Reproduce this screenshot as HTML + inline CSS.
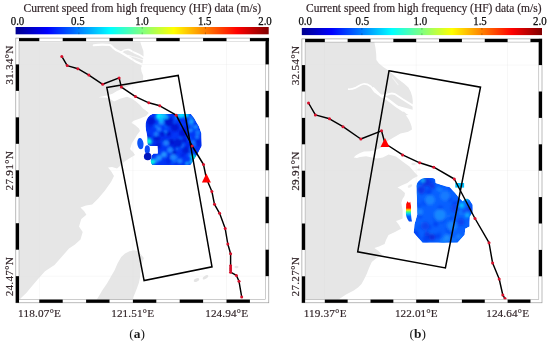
<!DOCTYPE html>
<html lang="en"><head><meta charset="utf-8"><title>Current speed from high frequency (HF) data</title>
<style>html,body{margin:0;padding:0;background:#fff;overflow:hidden}svg{display:block}</style></head>
<body>
<svg width="550" height="344" viewBox="0 0 550 344" font-family="'Liberation Serif', 'Times New Roman', serif">
<defs>
<linearGradient id="jet" x1="0" x2="1" y1="0" y2="0"><stop offset="0" stop-color="#00008f"/><stop offset="0.125" stop-color="#0000ff"/><stop offset="0.375" stop-color="#00ffff"/><stop offset="0.625" stop-color="#ffff00"/><stop offset="0.875" stop-color="#ff0000"/><stop offset="1" stop-color="#800000"/></linearGradient>
<linearGradient id="rb" x1="0" x2="0" y1="0" y2="1"><stop offset="0" stop-color="#ff0000"/><stop offset="0.33" stop-color="#ff1000"/><stop offset="0.43" stop-color="#ffe000"/><stop offset="0.52" stop-color="#40ff80"/><stop offset="0.62" stop-color="#00c8ff"/><stop offset="0.75" stop-color="#0060ff"/><stop offset="1" stop-color="#0048f0"/></linearGradient>
<filter id="bl" x="-20%" y="-20%" width="140%" height="140%"><feGaussianBlur stdDeviation="1.7"/></filter>
<filter id="soft" x="-5%" y="-5%" width="110%" height="110%"><feGaussianBlur stdDeviation="0.45"/></filter>
<clipPath id="ca"><rect x="19" y="41.3" width="246.6" height="258.3"/></clipPath>
<clipPath id="cb"><rect x="305.1" y="42.1" width="233.7" height="257.5"/></clipPath>
</defs>
<rect width="550" height="344" fill="#fff"/>
<g clip-path="url(#ca)"><g filter="url(#soft)"><polygon points="10.0,34.0 139.4,34.0 140.0,41.0 141.6,46.0 143.4,51.0 143.6,57.0 142.8,61.0 142.2,65.0 141.0,68.0 141.5,71.5 143.2,75.8 143.0,80.0 137.0,82.5 130.0,85.5 124.0,88.0 117.0,91.0 112.5,93.8 108.0,95.3 103.0,96.2 98.5,97.2 103.0,97.5 108.0,97.8 111.0,99.5 114.0,101.5 120.0,98.8 127.0,96.8 131.5,98.5 135.7,101.2 140.0,105.0 143.0,108.5 146.5,111.0 148.8,113.0 146.0,116.0 140.0,118.5 133.0,121.0 131.5,123.0 135.0,125.0 139.0,128.5 140.0,131.0 137.0,135.0 135.0,138.5 132.0,143.0 130.0,149.0 133.0,152.0 135.0,155.0 130.0,158.0 124.6,161.5 120.0,166.0 117.0,168.5 112.0,167.0 108.0,167.5 111.0,171.0 114.0,176.0 111.0,182.0 106.7,188.0 105.0,190.5 98.0,198.7 92.2,204.5 86.0,205.5 80.5,207.5 84.0,211.0 86.4,214.7 81.3,219.0 79.0,226.4 82.7,232.0 80.5,239.5 75.0,244.5 69.0,248.5 62.0,256.5 54.5,265.0 45.0,271.3 38.5,278.5 32.5,285.5 26.3,293.0 21.0,298.0 16.0,305.0 10.0,305.0" fill="#e6e6e6"/><polygon points="134.4,250.3 137.5,251.3 141.0,254.5 143.9,258.0 142.5,261.5 141.0,264.6 140.5,271.0 140.0,277.8 138.8,283.0 137.3,287.3 135.5,292.0 133.5,296.7 131.0,305.0 93.5,305.0 98.5,296.7 102.5,290.0 107.0,283.5 111.0,276.5 114.6,270.2 117.5,263.5 121.2,257.0 125.0,253.5 130.0,251.0" fill="#e6e6e6"/><path d="M93.7,45.3 C100,44.2 106,44.6 110,45 C113,46.5 112.5,48 114.4,48.8 C116,50.5 118,51 119.5,51.6 L124.5,54.5 L130.4,58.2 L136.2,61.8 L143.5,65.2" fill="none" stroke="#fff" stroke-width="2.1" stroke-linecap="round" stroke-linejoin="round"/>
<path d="M121.5,51.8 C123,50.5 126,49.2 128.9,49.6 C131,50.5 132.5,51.6 134,52.4 L139,54.6 L144,57.8" fill="none" stroke="#fff" stroke-width="1.7" stroke-linecap="round"/>
<path d="M128,55.3 C133,56.5 138,58 143.5,60" fill="none" stroke="#fff" stroke-width="0.8" stroke-linecap="round"/><ellipse cx="196.5" cy="280" rx="3" ry="1.6" fill="#e4e4e4" transform="rotate(-25 196.5 280)"/><ellipse cx="205.5" cy="277.3" rx="3.2" ry="1.5" fill="#e4e4e4" transform="rotate(-30 205.5 277.3)"/><ellipse cx="236.5" cy="267" rx="2" ry="1.2" fill="#e8e8e8"/></g>
<line x1="39.3" x2="39.3" y1="41" y2="300" stroke="#e0e0e0" stroke-width="0.5" opacity="0.55"/>
<line x1="132.9" x2="132.9" y1="41" y2="300" stroke="#e0e0e0" stroke-width="0.5" opacity="0.55"/>
<line x1="226.5" x2="226.5" y1="41" y2="300" stroke="#e0e0e0" stroke-width="0.5" opacity="0.55"/>
<line y1="64.4" y2="64.4" x1="19" x2="266" stroke="#e4e4e4" stroke-width="0.5" opacity="0.55"/>
<line y1="170.3" y2="170.3" x1="19" x2="266" stroke="#e4e4e4" stroke-width="0.5" opacity="0.55"/>
<line y1="276.2" y2="276.2" x1="19" x2="266" stroke="#e4e4e4" stroke-width="0.5" opacity="0.55"/>
<clipPath id="pac"><path d="M152.4,114.1 L191,114.1 L194.7,119.3 L199,126.5 L201.4,133.5 L201.7,146 L197.6,154 L190.5,164.9 L152.2,164.9 C150.6,163.2 150.6,161 151,159.5 L152,155.3 L153.5,153.6 L157.7,153.6 L157.7,145.9 L149.9,145.9 L147.6,144.5 L147.2,136 C146,131 145.3,127 145.6,123.5 C146.5,118.5 149,115.3 152.4,114.1 Z"/></clipPath><filter id="paf" x="-20%" y="-20%" width="140%" height="140%"><feGaussianBlur stdDeviation="1.1"/></filter><g clip-path="url(#pac)"><path d="M152.4,114.1 L191,114.1 L194.7,119.3 L199,126.5 L201.4,133.5 L201.7,146 L197.6,154 L190.5,164.9 L152.2,164.9 C150.6,163.2 150.6,161 151,159.5 L152,155.3 L153.5,153.6 L157.7,153.6 L157.7,145.9 L149.9,145.9 L147.6,144.5 L147.2,136 C146,131 145.3,127 145.6,123.5 C146.5,118.5 149,115.3 152.4,114.1 Z" fill="#0236f6"/><g filter="url(#paf)"><circle cx="164.5" cy="122.4" r="2.6" fill="#0020e0"/><circle cx="191.3" cy="119.6" r="2.5" fill="#0a64ff"/><circle cx="149.0" cy="136.2" r="1.7" fill="#0020e0"/><circle cx="176.8" cy="117.9" r="2.5" fill="#0a64ff"/><circle cx="181.1" cy="143.6" r="1.7" fill="#0018d0"/><circle cx="149.7" cy="125.8" r="2.5" fill="#0028ea"/><circle cx="162.6" cy="122.1" r="1.8" fill="#0a6cff"/><circle cx="177.3" cy="148.4" r="1.8" fill="#0a64ff"/><circle cx="167.1" cy="141.8" r="1.7" fill="#001cd8"/><circle cx="180.4" cy="139.3" r="2.5" fill="#0658ff"/><circle cx="172.1" cy="160.2" r="2.2" fill="#0a64ff"/><circle cx="189.9" cy="149.3" r="2.0" fill="#0a6cff"/><circle cx="175.4" cy="157.9" r="2.8" fill="#0a6cff"/><circle cx="179.9" cy="118.6" r="2.4" fill="#0028ea"/><circle cx="187.9" cy="122.4" r="2.4" fill="#001cd8"/><circle cx="198.9" cy="118.8" r="2.5" fill="#0658ff"/><circle cx="165.4" cy="132.2" r="2.4" fill="#0e74ff"/><circle cx="150.7" cy="119.6" r="2.0" fill="#0020e0"/><circle cx="150.3" cy="149.4" r="2.6" fill="#0e74ff"/><circle cx="162.4" cy="133.9" r="2.7" fill="#001cd8"/><circle cx="197.8" cy="132.4" r="2.6" fill="#0e74ff"/><circle cx="150.2" cy="152.6" r="1.8" fill="#0a64ff"/><circle cx="168.5" cy="159.9" r="2.4" fill="#0028ea"/><circle cx="171.3" cy="141.9" r="3.0" fill="#0018d0"/><circle cx="193.7" cy="128.6" r="2.3" fill="#0658ff"/><circle cx="183.9" cy="133.6" r="2.0" fill="#0020e0"/><circle cx="156.5" cy="126.4" r="2.0" fill="#0e74ff"/><circle cx="191.9" cy="123.9" r="2.1" fill="#0028ea"/><circle cx="169.6" cy="133.1" r="2.5" fill="#0028ea"/><circle cx="184.3" cy="140.3" r="2.6" fill="#001cd8"/><circle cx="171.7" cy="157.7" r="3.1" fill="#0018d0"/><circle cx="168.5" cy="134.3" r="2.4" fill="#0018d0"/><circle cx="150.4" cy="118.3" r="1.9" fill="#0028ea"/><circle cx="152.9" cy="144.4" r="1.8" fill="#0028ea"/><circle cx="176.0" cy="161.5" r="2.6" fill="#0020e0"/><circle cx="194.2" cy="145.1" r="1.8" fill="#0a6cff"/><circle cx="198.6" cy="144.5" r="2.4" fill="#0020e0"/><circle cx="192.8" cy="163.7" r="2.3" fill="#0e74ff"/><circle cx="163.8" cy="122.1" r="2.8" fill="#0a6cff"/><circle cx="172.8" cy="148.9" r="2.4" fill="#0a64ff"/><circle cx="198.4" cy="140.9" r="1.8" fill="#001cd8"/><circle cx="187.9" cy="129.6" r="2.6" fill="#0020e0"/><circle cx="184.6" cy="127.8" r="2.2" fill="#0028ea"/><circle cx="166.2" cy="125.9" r="2.5" fill="#0658ff"/><circle cx="181.4" cy="145.0" r="2.9" fill="#0a64ff"/><circle cx="190.5" cy="155.1" r="2.8" fill="#0a64ff"/><circle cx="157.8" cy="139.1" r="2.8" fill="#001cd8"/><circle cx="189.7" cy="138.1" r="1.9" fill="#0658ff"/><circle cx="171.2" cy="160.9" r="3.2" fill="#0658ff"/><circle cx="151.3" cy="120.0" r="2.4" fill="#0658ff"/><circle cx="158.0" cy="145.6" r="3.0" fill="#001cd8"/><circle cx="172.9" cy="147.0" r="2.9" fill="#0020e0"/><circle cx="192.1" cy="120.9" r="2.2" fill="#0a64ff"/><circle cx="172.8" cy="123.7" r="2.9" fill="#0658ff"/><circle cx="151.7" cy="161.4" r="2.8" fill="#0e74ff"/><circle cx="168.7" cy="161.4" r="2.8" fill="#0028ea"/><circle cx="200.6" cy="116.3" r="2.5" fill="#0e74ff"/><circle cx="190.6" cy="122.2" r="2.9" fill="#0e74ff"/><circle cx="182.5" cy="132.2" r="2.5" fill="#0028ea"/><circle cx="148.2" cy="154.2" r="2.8" fill="#0020e0"/><circle cx="175.4" cy="160.7" r="2.3" fill="#0a64ff"/><circle cx="191.6" cy="125.3" r="2.0" fill="#0a6cff"/><circle cx="174.1" cy="152.4" r="2.1" fill="#0018d0"/><circle cx="192.0" cy="118.0" r="2.8" fill="#0e74ff"/><circle cx="182.8" cy="154.9" r="2.4" fill="#0028ea"/><circle cx="175.7" cy="140.7" r="1.6" fill="#0e74ff"/><circle cx="188.9" cy="144.8" r="2.8" fill="#0028ea"/><circle cx="156.3" cy="138.2" r="2.8" fill="#001cd8"/><circle cx="164.6" cy="140.4" r="2.5" fill="#0020e0"/><circle cx="194.7" cy="117.8" r="1.9" fill="#001cd8"/><circle cx="151" cy="121" r="4" fill="#0018d4"/><circle cx="169" cy="122" r="4.5" fill="#0016d0"/><circle cx="175" cy="127.5" r="4" fill="#0018d4"/><circle cx="183" cy="133" r="4" fill="#0018d4"/><circle cx="178" cy="143" r="4.5" fill="#001ad6"/><circle cx="186" cy="150" r="3.5" fill="#001ad6"/><circle cx="161" cy="123" r="2.6" fill="#1c84ff"/><circle cx="159" cy="129" r="2.6" fill="#1a7cff"/><circle cx="156" cy="134" r="2.5" fill="#1878ff"/><circle cx="164" cy="154.5" r="3" fill="#2090ff"/><circle cx="159" cy="158" r="3" fill="#2090ff"/><circle cx="156" cy="160.5" r="2.5" fill="#1e8cff"/><circle cx="170" cy="150" r="3" fill="#1a80ff"/><circle cx="166" cy="143" r="3" fill="#1a7cff"/><circle cx="173" cy="157" r="3" fill="#1c84ff"/><circle cx="180" cy="161" r="2.5" fill="#1a80ff"/><circle cx="191.8" cy="121.6" r="2.2" fill="#18a0ff"/><circle cx="196" cy="126.7" r="2.2" fill="#1a88ff"/><circle cx="190.4" cy="130.4" r="2.2" fill="#1a88ff"/><circle cx="197" cy="137" r="2" fill="#1a80ff"/><circle cx="193" cy="142" r="2" fill="#1a80ff"/><circle cx="159.6" cy="116.3" r="3.6" fill="#00ecff"/><circle cx="163.8" cy="116" r="3" fill="#08c8ff"/><circle cx="160.8" cy="120" r="2.6" fill="#08b4ff"/><circle cx="166.5" cy="117" r="2.2" fill="#0aa0ff"/><circle cx="181" cy="115" r="2.8" fill="#00e0ff"/><circle cx="186" cy="115" r="2.8" fill="#00d4ff"/><circle cx="177.5" cy="115.3" r="2" fill="#08b0ff"/><circle cx="148.8" cy="141.2" r="2.8" fill="#00f8d8"/><circle cx="152.4" cy="162" r="2.6" fill="#00f4e0"/><circle cx="193.3" cy="157" r="2.6" fill="#00f4d0"/><circle cx="191.5" cy="161.5" r="2" fill="#10c8ff"/><circle cx="187" cy="163.5" r="2" fill="#18a0ff"/></g></g>
<g filter="url(#soft)"><ellipse cx="140.4" cy="143.7" rx="3.1" ry="5.7" fill="#0a54f8" transform="rotate(-7 140.4 143.7)"/><ellipse cx="147.3" cy="149.6" rx="2.6" ry="4.4" fill="#0a4cf8"/><circle cx="147.7" cy="156.5" r="3.8" fill="#0612bc"/></g>
<polygon points="106.8,87.4 178.2,75.4 212,266.8 144.1,280.6" fill="none" stroke="#000" stroke-width="1.5"/>
<path d="M61.8,56.4 L67.2,65.6 L77.9,68.7 L88.9,75.1 L102.7,84.3 L119.1,77.9 L121.4,87.1 L135.5,96.6 L148.8,102.8 L159.8,105.8 L176.2,115.2 L192.2,146.0 L203.5,164.5 L206.4,178.5 L211.9,191.5 L214.5,204.3 L219.6,213.3 L225.2,228.6 L227.8,244.0 L230.6,253.7 L230.6,265.7 L230.6,268.0 L230.6,270.0 L230.6,272.2 L236.4,275.4 L239.0,281.3 L241.7,296.9" fill="none" stroke="#000" stroke-width="1.45" stroke-linejoin="round"/><circle cx="61.8" cy="56.4" r="1.5" fill="#d80f2a"/><circle cx="67.2" cy="65.6" r="1.5" fill="#d80f2a"/><circle cx="77.9" cy="68.7" r="1.5" fill="#d80f2a"/><circle cx="88.9" cy="75.1" r="1.5" fill="#d80f2a"/><circle cx="102.7" cy="84.3" r="1.5" fill="#d80f2a"/><circle cx="119.1" cy="77.9" r="1.5" fill="#d80f2a"/><circle cx="121.4" cy="87.1" r="1.5" fill="#d80f2a"/><circle cx="135.5" cy="96.6" r="1.5" fill="#d80f2a"/><circle cx="148.8" cy="102.8" r="1.5" fill="#d80f2a"/><circle cx="159.8" cy="105.8" r="1.5" fill="#d80f2a"/><circle cx="176.2" cy="115.2" r="1.5" fill="#d80f2a"/><circle cx="192.2" cy="146.0" r="1.5" fill="#d80f2a"/><circle cx="203.5" cy="164.5" r="1.5" fill="#d80f2a"/><circle cx="206.4" cy="178.5" r="1.5" fill="#d80f2a"/><circle cx="211.9" cy="191.5" r="1.5" fill="#d80f2a"/><circle cx="214.5" cy="204.3" r="1.5" fill="#d80f2a"/><circle cx="219.6" cy="213.3" r="1.5" fill="#d80f2a"/><circle cx="225.2" cy="228.6" r="1.5" fill="#d80f2a"/><circle cx="227.8" cy="244.0" r="1.5" fill="#d80f2a"/><circle cx="230.6" cy="253.7" r="1.5" fill="#d80f2a"/><circle cx="230.6" cy="265.7" r="1.5" fill="#d80f2a"/><circle cx="230.6" cy="268.0" r="1.5" fill="#d80f2a"/><circle cx="230.6" cy="270.0" r="1.5" fill="#d80f2a"/><circle cx="230.6" cy="272.2" r="1.5" fill="#d80f2a"/><circle cx="236.4" cy="275.4" r="1.5" fill="#d80f2a"/><circle cx="239.0" cy="281.3" r="1.5" fill="#d80f2a"/><circle cx="241.7" cy="296.9" r="1.5" fill="#d80f2a"/><path d="M201.9,182.6 L210.9,182.6 L206.4,173.6 Z" fill="#ff0000"/>
</g>
<rect x="15.8" y="38.1" width="253.00" height="264.70" fill="none" stroke="#8c8c8c" stroke-width="0.6"/>
<rect x="19.0" y="41.300000000000004" width="246.60" height="258.30" fill="none" stroke="#9a9a9a" stroke-width="0.5"/>
<rect x="19.00" y="38.1" width="20.30" height="3.2" fill="#000"/>
<rect x="62.70" y="38.1" width="23.40" height="3.2" fill="#000"/>
<rect x="109.50" y="38.1" width="23.40" height="3.2" fill="#000"/>
<rect x="156.30" y="38.1" width="23.40" height="3.2" fill="#000"/>
<rect x="203.10" y="38.1" width="23.40" height="3.2" fill="#000"/>
<rect x="249.90" y="38.1" width="18.90" height="3.2" fill="#000"/>
<rect x="39.30" y="299.60" width="23.40" height="3.2" fill="#000"/>
<rect x="86.10" y="299.60" width="23.40" height="3.2" fill="#000"/>
<rect x="132.90" y="299.60" width="23.40" height="3.2" fill="#000"/>
<rect x="179.70" y="299.60" width="23.40" height="3.2" fill="#000"/>
<rect x="226.50" y="299.60" width="23.40" height="3.2" fill="#000"/>
<rect x="15.8" y="64.40" width="3.2" height="26.47" fill="#000"/>
<rect x="15.8" y="117.34" width="3.2" height="26.47" fill="#000"/>
<rect x="15.8" y="170.28" width="3.2" height="26.47" fill="#000"/>
<rect x="15.8" y="223.22" width="3.2" height="26.47" fill="#000"/>
<rect x="15.8" y="276.16" width="3.2" height="26.64" fill="#000"/>
<rect x="265.60" y="38.10" width="3.2" height="26.30" fill="#000"/>
<rect x="265.60" y="90.87" width="3.2" height="26.47" fill="#000"/>
<rect x="265.60" y="143.81" width="3.2" height="26.47" fill="#000"/>
<rect x="265.60" y="196.75" width="3.2" height="26.47" fill="#000"/>
<rect x="265.60" y="249.69" width="3.2" height="26.47" fill="#000"/>
<rect x="15.6" y="27" width="253.1" height="7.3" fill="url(#jet)"/>
<path d="M78.9,27 v1.8 M78.9,34.3 v-1.8" stroke="#000" stroke-width="0.5" opacity="0.55"/>
<path d="M142.2,27 v1.8 M142.2,34.3 v-1.8" stroke="#000" stroke-width="0.5" opacity="0.55"/>
<path d="M205.4,27 v1.8 M205.4,34.3 v-1.8" stroke="#000" stroke-width="0.5" opacity="0.55"/>
<rect x="19" y="41.3" width="246.5" height="0.9" fill="#fff" opacity="0.65"/>
<g clip-path="url(#cb)"><g filter="url(#soft)"><polygon points="296.0,34.0 374.0,34.0 374.3,42.0 375.5,48.0 376.2,54.0 376.4,60.0 379.0,63.5 383.6,67.3 389.0,70.8 392.5,74.0 398.0,79.0 404.0,83.5 408.4,87.6 410.8,92.0 412.2,96.4 412.8,101.0 412.6,105.5 412.6,112.0 406.0,115.5 408.5,119.0 410.4,123.0 411.6,126.5 412.0,129.6 408.2,131.8 404.0,132.8 400.5,133.5 394.0,137.3 388.5,140.5 385.0,143.6 381.4,147.4 376.0,150.0 370.0,151.2 364.0,151.6 360.0,153.0 356.0,155.3 353.7,157.5 357.0,158.0 360.0,157.0 366.0,156.2 372.0,157.5 377.0,158.5 382.8,157.5 388.6,154.6 396.0,156.5 403.2,162.0 409.5,166.5 413.8,171.5 418.0,176.0 413.0,178.5 407.3,183.0 402.0,185.2 397.5,187.5 401.0,189.5 405.0,193.0 404.5,196.0 402.5,199.0 401.3,203.0 402.6,210.0 402.6,218.5 399.0,220.0 396.0,221.0 399.0,225.0 401.0,228.7 395.0,232.0 388.5,235.0 386.0,240.0 384.6,244.0 379.0,246.5 374.4,248.0 378.5,251.0 382.0,254.4 376.0,258.5 371.8,262.0 369.0,268.0 366.7,274.0 364.0,279.5 361.5,284.0 358.0,287.5 353.8,290.6 346.0,294.5 338.5,299.4 329.0,305.0 296.0,305.0" fill="#e6e6e6"/><path d="M348.7,89.2 C351,89.4 353.5,88.6 356,87.6 C358.5,86.3 360.5,84.5 363.3,84 C366,83.8 368.5,84.8 370.5,86.2 C372.3,88 373.5,90.3 375,92 C377,94 379.5,95 382.2,95.6" fill="none" stroke="#fff" stroke-width="1.7" stroke-linecap="round"/>
<path d="M373.3,88.3 L381,96 L387.5,99.2 L397.3,106.8 L403,110.5" fill="none" stroke="#fff" stroke-width="2.4" stroke-linecap="round" stroke-linejoin="round"/>
<path d="M397,105.6 L413.5,110 L413.5,117.2 L406,113.6 Z" fill="#fff"/>
<path d="M382.2,95.6 C385,95.5 388,94.2 391,93.6 C394,93.2 396.5,94.8 398.2,96.2 L402.7,99.2 L413,105.6" fill="none" stroke="#fff" stroke-width="1.9" stroke-linecap="round" stroke-linejoin="round"/>
<path d="M392.4,77.5 L398,84.7" fill="none" stroke="#fff" stroke-width="1.1" stroke-linecap="round" opacity="0.55"/><ellipse cx="413.5" cy="164" rx="2.2" ry="1.2" fill="#ececec"/><ellipse cx="419" cy="169.5" rx="1.8" ry="1.1" fill="#eeeeee"/><ellipse cx="408" cy="158" rx="1.6" ry="1" fill="#efefef"/><ellipse cx="410" cy="186" rx="2.5" ry="1.3" fill="#ececec" transform="rotate(-30 410 186)"/></g>
<line x1="324.8" x2="324.8" y1="42" y2="300" stroke="#e0e0e0" stroke-width="0.5" opacity="0.55"/>
<line x1="416.2" x2="416.2" y1="42" y2="300" stroke="#e0e0e0" stroke-width="0.5" opacity="0.55"/>
<line x1="507.6" x2="507.6" y1="42" y2="300" stroke="#e0e0e0" stroke-width="0.5" opacity="0.55"/>
<line y1="65.1" y2="65.1" x1="305" x2="539" stroke="#e4e4e4" stroke-width="0.5" opacity="0.55"/>
<line y1="170.7" y2="170.7" x1="305" x2="539" stroke="#e4e4e4" stroke-width="0.5" opacity="0.55"/>
<line y1="276.3" y2="276.3" x1="305" x2="539" stroke="#e4e4e4" stroke-width="0.5" opacity="0.55"/>
<clipPath id="pbc"><path d="M420.4,179.6 C422,178.2 424,177.9 427,177.9 L432,177.9 C434,178 435,178.8 435.3,180 L435.6,183 L441,185 L449.6,187.3 L455,192.7 L458.4,197 L462.8,201.3 L464.3,199.6 C466,198.2 468.5,198.4 470,200.5 L472.7,204.8 L472.7,212.5 L469.6,216.8 L469.6,226.6 L465.2,228.8 L464.7,234.7 L457.5,242.7 L422.5,242.7 L413.8,232.5 L414.4,224.5 L417.3,214.4 L416.6,186 C416.8,183 418.5,181 420.4,179.6 Z"/></clipPath><filter id="pbf" x="-20%" y="-20%" width="140%" height="140%"><feGaussianBlur stdDeviation="1.5"/></filter><g clip-path="url(#pbc)"><path d="M420.4,179.6 C422,178.2 424,177.9 427,177.9 L432,177.9 C434,178 435,178.8 435.3,180 L435.6,183 L441,185 L449.6,187.3 L455,192.7 L458.4,197 L462.8,201.3 L464.3,199.6 C466,198.2 468.5,198.4 470,200.5 L472.7,204.8 L472.7,212.5 L469.6,216.8 L469.6,226.6 L465.2,228.8 L464.7,234.7 L457.5,242.7 L422.5,242.7 L413.8,232.5 L414.4,224.5 L417.3,214.4 L416.6,186 C416.8,183 418.5,181 420.4,179.6 Z" fill="#0860ff"/><g filter="url(#pbf)"><circle cx="439.9" cy="214.7" r="3.3" fill="#0e7cff"/><circle cx="439.9" cy="233.0" r="2.1" fill="#0658fc"/><circle cx="443.2" cy="219.1" r="3.1" fill="#0448f8"/><circle cx="439.6" cy="188.8" r="2.7" fill="#1284ff"/><circle cx="449.9" cy="216.9" r="2.4" fill="#0e7cff"/><circle cx="451.0" cy="218.2" r="2.1" fill="#0448f8"/><circle cx="460.7" cy="183.9" r="1.9" fill="#044cfa"/><circle cx="448.0" cy="228.2" r="2.3" fill="#0240f4"/><circle cx="461.3" cy="212.2" r="2.8" fill="#0e7cff"/><circle cx="415.3" cy="185.3" r="2.8" fill="#0e7cff"/><circle cx="469.9" cy="241.7" r="3.1" fill="#1284ff"/><circle cx="429.0" cy="227.0" r="2.6" fill="#0448f8"/><circle cx="418.9" cy="227.5" r="2.4" fill="#0658fc"/><circle cx="431.0" cy="184.1" r="1.8" fill="#1284ff"/><circle cx="415.0" cy="193.0" r="3.3" fill="#0e7cff"/><circle cx="435.7" cy="224.0" r="2.5" fill="#0240f4"/><circle cx="449.6" cy="228.3" r="2.2" fill="#0448f8"/><circle cx="432.1" cy="180.9" r="2.5" fill="#0448f8"/><circle cx="422.4" cy="223.8" r="1.8" fill="#0e7cff"/><circle cx="458.8" cy="191.0" r="2.7" fill="#0e7cff"/><circle cx="443.0" cy="241.1" r="3.0" fill="#0e7cff"/><circle cx="450.4" cy="187.2" r="2.5" fill="#044cfa"/><circle cx="415.0" cy="233.6" r="3.4" fill="#0240f4"/><circle cx="431.7" cy="234.9" r="2.1" fill="#0e7cff"/><circle cx="469.8" cy="217.3" r="2.7" fill="#0448f8"/><circle cx="469.4" cy="193.2" r="2.2" fill="#0658fc"/><circle cx="448.6" cy="231.5" r="2.4" fill="#0448f8"/><circle cx="420.0" cy="216.1" r="2.2" fill="#0240f4"/><circle cx="435.3" cy="218.6" r="2.0" fill="#0240f4"/><circle cx="441.6" cy="215.6" r="3.2" fill="#044cfa"/><circle cx="449.5" cy="199.3" r="2.2" fill="#0240f4"/><circle cx="428.7" cy="191.8" r="3.0" fill="#0240f4"/><circle cx="425.8" cy="238.9" r="3.2" fill="#0240f4"/><circle cx="419.3" cy="182.9" r="2.0" fill="#0240f4"/><circle cx="467.9" cy="194.8" r="2.9" fill="#0c74ff"/><circle cx="438.1" cy="236.1" r="2.6" fill="#0240f4"/><circle cx="424.6" cy="224.7" r="1.9" fill="#044cfa"/><circle cx="441.4" cy="220.5" r="2.8" fill="#0448f8"/><circle cx="430.4" cy="236.9" r="2.1" fill="#0448f8"/><circle cx="418.8" cy="205.5" r="2.2" fill="#0448f8"/><circle cx="424.7" cy="202.9" r="2.7" fill="#044cfa"/><circle cx="420.1" cy="188.6" r="2.5" fill="#0c74ff"/><circle cx="451.1" cy="222.9" r="2.7" fill="#044cfa"/><circle cx="447.4" cy="237.3" r="2.6" fill="#0c74ff"/><circle cx="453.6" cy="239.7" r="1.8" fill="#1284ff"/><circle cx="419.1" cy="184.2" r="2.3" fill="#044cfa"/><circle cx="470.0" cy="184.7" r="2.7" fill="#1284ff"/><circle cx="417.4" cy="238.0" r="3.0" fill="#044cfa"/><circle cx="458.6" cy="236.7" r="2.4" fill="#1284ff"/><circle cx="441.0" cy="184.8" r="3.2" fill="#0658fc"/><circle cx="416.7" cy="211.0" r="1.8" fill="#1284ff"/><circle cx="436.0" cy="216.1" r="2.8" fill="#0448f8"/><circle cx="420.0" cy="187.2" r="2.2" fill="#0e7cff"/><circle cx="455.1" cy="204.1" r="3.0" fill="#0240f4"/><circle cx="440.2" cy="208.7" r="2.7" fill="#0240f4"/><circle cx="426" cy="182" r="4.5" fill="#0a30e2"/><circle cx="421" cy="190" r="4" fill="#0a34e6"/><circle cx="432" cy="186" r="3" fill="#0a38e8"/><circle cx="423" cy="180.4" r="1.8" fill="#10c8ff"/><circle cx="466" cy="199.3" r="2.2" fill="#00e4f0"/><circle cx="461.8" cy="205.4" r="2.4" fill="#00dcff"/><circle cx="469.5" cy="209" r="2.4" fill="#0a30e0"/><circle cx="467.3" cy="215.2" r="2.2" fill="#10c0ff"/><circle cx="464" cy="211" r="2" fill="#0a40f0"/><circle cx="432" cy="237" r="3.2" fill="#0a2cdc"/><circle cx="427" cy="234" r="2.5" fill="#0a38e6"/><circle cx="430" cy="200" r="5" fill="#1684ff"/><circle cx="445" cy="196" r="5" fill="#147cff"/><circle cx="440" cy="215" r="6" fill="#1888ff"/><circle cx="452" cy="226" r="5" fill="#1684ff"/><circle cx="425" cy="226" r="4" fill="#0a44f0"/><circle cx="455" cy="208" r="4" fill="#0c48f2"/><circle cx="447" cy="238" r="3.5" fill="#1a8cff"/><circle cx="420" cy="212" r="3" fill="#1684ff"/><circle cx="461" cy="222" r="3.5" fill="#0c40ee"/></g></g>
<rect x="455.3" y="183" width="8.8" height="4.6" fill="#00c0ff"/>
<path d="M406.2,204 L407.5,201.3 L409,203 L410.2,201.8 L411,206 L411,214 C411.2,217 411.6,219.5 412,221.5 L409,221.5 C407,219 405.9,216 405.9,213 Z" fill="url(#rb)"/>
<polygon points="389,70.8 480.5,87.2 445.4,268 357.7,251.8" fill="none" stroke="#000" stroke-width="1.5"/>
<path d="M308.5,103.0 L315.4,114.9 L329.5,118.8 L343.0,126.7 L360.8,139.0 L381.5,130.8 L385.0,143.5 L402.6,154.9 L419.7,162.8 L433.8,167.2 L454.3,179.0 L475.0,218.5 L489.0,242.7 L492.6,263.0 L499.2,279.0 L502.8,295.0 L505.0,298.6" fill="none" stroke="#000" stroke-width="1.45" stroke-linejoin="round"/><circle cx="308.5" cy="103.0" r="1.5" fill="#d80f2a"/><circle cx="315.4" cy="114.9" r="1.5" fill="#d80f2a"/><circle cx="329.5" cy="118.8" r="1.5" fill="#d80f2a"/><circle cx="343.0" cy="126.7" r="1.5" fill="#d80f2a"/><circle cx="360.8" cy="139.0" r="1.5" fill="#d80f2a"/><circle cx="381.5" cy="130.8" r="1.5" fill="#d80f2a"/><circle cx="385.0" cy="143.5" r="1.5" fill="#d80f2a"/><circle cx="402.6" cy="154.9" r="1.5" fill="#d80f2a"/><circle cx="419.7" cy="162.8" r="1.5" fill="#d80f2a"/><circle cx="433.8" cy="167.2" r="1.5" fill="#d80f2a"/><circle cx="454.3" cy="179.0" r="1.5" fill="#d80f2a"/><circle cx="475.0" cy="218.5" r="1.5" fill="#d80f2a"/><circle cx="489.0" cy="242.7" r="1.5" fill="#d80f2a"/><circle cx="492.6" cy="263.0" r="1.5" fill="#d80f2a"/><circle cx="499.2" cy="279.0" r="1.5" fill="#d80f2a"/><circle cx="502.8" cy="295.0" r="1.5" fill="#d80f2a"/><circle cx="505.0" cy="298.6" r="1.5" fill="#d80f2a"/><path d="M380.5,146.9 L389.5,146.9 L385.0,137.9 Z" fill="#ff0000"/>
</g>
<rect x="301.9" y="38.9" width="240.10" height="263.90" fill="none" stroke="#8c8c8c" stroke-width="0.6"/>
<rect x="305.09999999999997" y="42.1" width="233.70" height="257.50" fill="none" stroke="#9a9a9a" stroke-width="0.5"/>
<rect x="305.10" y="38.9" width="19.70" height="3.2" fill="#000"/>
<rect x="347.65" y="38.9" width="22.85" height="3.2" fill="#000"/>
<rect x="393.35" y="38.9" width="22.85" height="3.2" fill="#000"/>
<rect x="439.05" y="38.9" width="22.85" height="3.2" fill="#000"/>
<rect x="484.75" y="38.9" width="22.85" height="3.2" fill="#000"/>
<rect x="530.45" y="38.9" width="11.55" height="3.2" fill="#000"/>
<rect x="324.80" y="299.60" width="22.85" height="3.2" fill="#000"/>
<rect x="370.50" y="299.60" width="22.85" height="3.2" fill="#000"/>
<rect x="416.20" y="299.60" width="22.85" height="3.2" fill="#000"/>
<rect x="461.90" y="299.60" width="22.85" height="3.2" fill="#000"/>
<rect x="507.60" y="299.60" width="22.85" height="3.2" fill="#000"/>
<rect x="301.9" y="65.10" width="3.2" height="26.40" fill="#000"/>
<rect x="301.9" y="117.90" width="3.2" height="26.40" fill="#000"/>
<rect x="301.9" y="170.70" width="3.2" height="26.40" fill="#000"/>
<rect x="301.9" y="223.50" width="3.2" height="26.40" fill="#000"/>
<rect x="301.9" y="276.30" width="3.2" height="26.50" fill="#000"/>
<rect x="538.80" y="38.90" width="3.2" height="26.20" fill="#000"/>
<rect x="538.80" y="91.50" width="3.2" height="26.40" fill="#000"/>
<rect x="538.80" y="144.30" width="3.2" height="26.40" fill="#000"/>
<rect x="538.80" y="197.10" width="3.2" height="26.40" fill="#000"/>
<rect x="538.80" y="249.90" width="3.2" height="26.40" fill="#000"/>
<rect x="301.8" y="28" width="240.2" height="7.1" fill="url(#jet)"/>
<path d="M361.9,28 v1.8 M361.9,35.1 v-1.8" stroke="#000" stroke-width="0.5" opacity="0.55"/>
<path d="M421.9,28 v1.8 M421.9,35.1 v-1.8" stroke="#000" stroke-width="0.5" opacity="0.55"/>
<path d="M481.9,28 v1.8 M481.9,35.1 v-1.8" stroke="#000" stroke-width="0.5" opacity="0.55"/>
<text x="23.5" y="11.8" font-size="11.6" text-anchor="start" fill="#33262a" stroke="#33262a" stroke-width="0.18" font-weight="normal" textLength="237.5" lengthAdjust="spacingAndGlyphs">Current speed from high frequency (HF) data (m/s)</text>
<text x="306" y="11.8" font-size="11.6" text-anchor="start" fill="#33262a" stroke="#33262a" stroke-width="0.18" font-weight="normal" textLength="235.5" lengthAdjust="spacingAndGlyphs">Current speed from high frequency (HF) data (m/s)</text>
<text x="17.5" y="25.0" font-size="11.6" text-anchor="middle" fill="#0c0c0c" stroke="#0c0c0c" stroke-width="0.25" font-weight="normal" textLength="13.6" lengthAdjust="spacingAndGlyphs">0.0</text>
<text x="77.9" y="25.0" font-size="11.6" text-anchor="middle" fill="#0c0c0c" stroke="#0c0c0c" stroke-width="0.25" font-weight="normal" textLength="13.6" lengthAdjust="spacingAndGlyphs">0.5</text>
<text x="142" y="25.0" font-size="11.6" text-anchor="middle" fill="#0c0c0c" stroke="#0c0c0c" stroke-width="0.25" font-weight="normal" textLength="13.6" lengthAdjust="spacingAndGlyphs">1.0</text>
<text x="204.7" y="25.0" font-size="11.6" text-anchor="middle" fill="#0c0c0c" stroke="#0c0c0c" stroke-width="0.25" font-weight="normal" textLength="13.6" lengthAdjust="spacingAndGlyphs">1.5</text>
<text x="265" y="25.0" font-size="11.6" text-anchor="middle" fill="#0c0c0c" stroke="#0c0c0c" stroke-width="0.25" font-weight="normal" textLength="13.6" lengthAdjust="spacingAndGlyphs">2.0</text>
<text x="305.2" y="25.0" font-size="11.6" text-anchor="middle" fill="#0c0c0c" stroke="#0c0c0c" stroke-width="0.25" font-weight="normal" textLength="13.6" lengthAdjust="spacingAndGlyphs">0.0</text>
<text x="362.3" y="25.0" font-size="11.6" text-anchor="middle" fill="#0c0c0c" stroke="#0c0c0c" stroke-width="0.25" font-weight="normal" textLength="13.6" lengthAdjust="spacingAndGlyphs">0.5</text>
<text x="420.3" y="25.0" font-size="11.6" text-anchor="middle" fill="#0c0c0c" stroke="#0c0c0c" stroke-width="0.25" font-weight="normal" textLength="13.6" lengthAdjust="spacingAndGlyphs">1.0</text>
<text x="480" y="25.0" font-size="11.6" text-anchor="middle" fill="#0c0c0c" stroke="#0c0c0c" stroke-width="0.25" font-weight="normal" textLength="13.6" lengthAdjust="spacingAndGlyphs">1.5</text>
<text x="539.9" y="25.0" font-size="11.6" text-anchor="middle" fill="#0c0c0c" stroke="#0c0c0c" stroke-width="0.25" font-weight="normal" textLength="13.6" lengthAdjust="spacingAndGlyphs">2.0</text>
<text x="39.5" y="316.8" font-size="11.2" text-anchor="middle" fill="#33262a" stroke="#33262a" stroke-width="0.18" font-weight="normal" textLength="42.8" lengthAdjust="spacing">118.07°E</text>
<text x="132.6" y="316.8" font-size="11.2" text-anchor="middle" fill="#33262a" stroke="#33262a" stroke-width="0.18" font-weight="normal" textLength="42.8" lengthAdjust="spacing">121.51°E</text>
<text x="226.6" y="316.8" font-size="11.2" text-anchor="middle" fill="#33262a" stroke="#33262a" stroke-width="0.18" font-weight="normal" textLength="42.8" lengthAdjust="spacing">124.94°E</text>
<text x="325.1" y="316.8" font-size="11.2" text-anchor="middle" fill="#33262a" stroke="#33262a" stroke-width="0.18" font-weight="normal" textLength="42.8" lengthAdjust="spacing">119.37°E</text>
<text x="416.3" y="316.8" font-size="11.2" text-anchor="middle" fill="#33262a" stroke="#33262a" stroke-width="0.18" font-weight="normal" textLength="42.8" lengthAdjust="spacing">122.01°E</text>
<text x="507.6" y="316.8" font-size="11.2" text-anchor="middle" fill="#33262a" stroke="#33262a" stroke-width="0.18" font-weight="normal" textLength="42.8" lengthAdjust="spacing">124.64°E</text>
<text x="13.4" y="65.2" font-size="11.2" text-anchor="middle" fill="#33262a" stroke="#33262a" stroke-width="0.18" font-weight="normal" textLength="39.3" lengthAdjust="spacing" transform="rotate(-90 13.4 65.2)">31.34°N</text>
<text x="13.4" y="170.8" font-size="11.2" text-anchor="middle" fill="#33262a" stroke="#33262a" stroke-width="0.18" font-weight="normal" textLength="39.3" lengthAdjust="spacing" transform="rotate(-90 13.4 170.8)">27.91°N</text>
<text x="13.4" y="276.7" font-size="11.2" text-anchor="middle" fill="#33262a" stroke="#33262a" stroke-width="0.18" font-weight="normal" textLength="39.3" lengthAdjust="spacing" transform="rotate(-90 13.4 276.7)">24.47°N</text>
<text x="298.6" y="65.6" font-size="11.2" text-anchor="middle" fill="#33262a" stroke="#33262a" stroke-width="0.18" font-weight="normal" textLength="39.3" lengthAdjust="spacing" transform="rotate(-90 298.6 65.6)">32.54°N</text>
<text x="298.6" y="171.2" font-size="11.2" text-anchor="middle" fill="#33262a" stroke="#33262a" stroke-width="0.18" font-weight="normal" textLength="39.3" lengthAdjust="spacing" transform="rotate(-90 298.6 171.2)">29.91°N</text>
<text x="298.6" y="276.8" font-size="11.2" text-anchor="middle" fill="#33262a" stroke="#33262a" stroke-width="0.18" font-weight="normal" textLength="39.3" lengthAdjust="spacing" transform="rotate(-90 298.6 276.8)">27.27°N</text>
<text x="137.1" y="337.8" font-size="13.4" text-anchor="middle" fill="#1a1a1a">(<tspan font-weight="bold">a</tspan>)</text>
<text x="417.7" y="338.0" font-size="13.4" text-anchor="middle" fill="#1a1a1a">(<tspan font-weight="bold">b</tspan>)</text>
</svg>
</body></html>
